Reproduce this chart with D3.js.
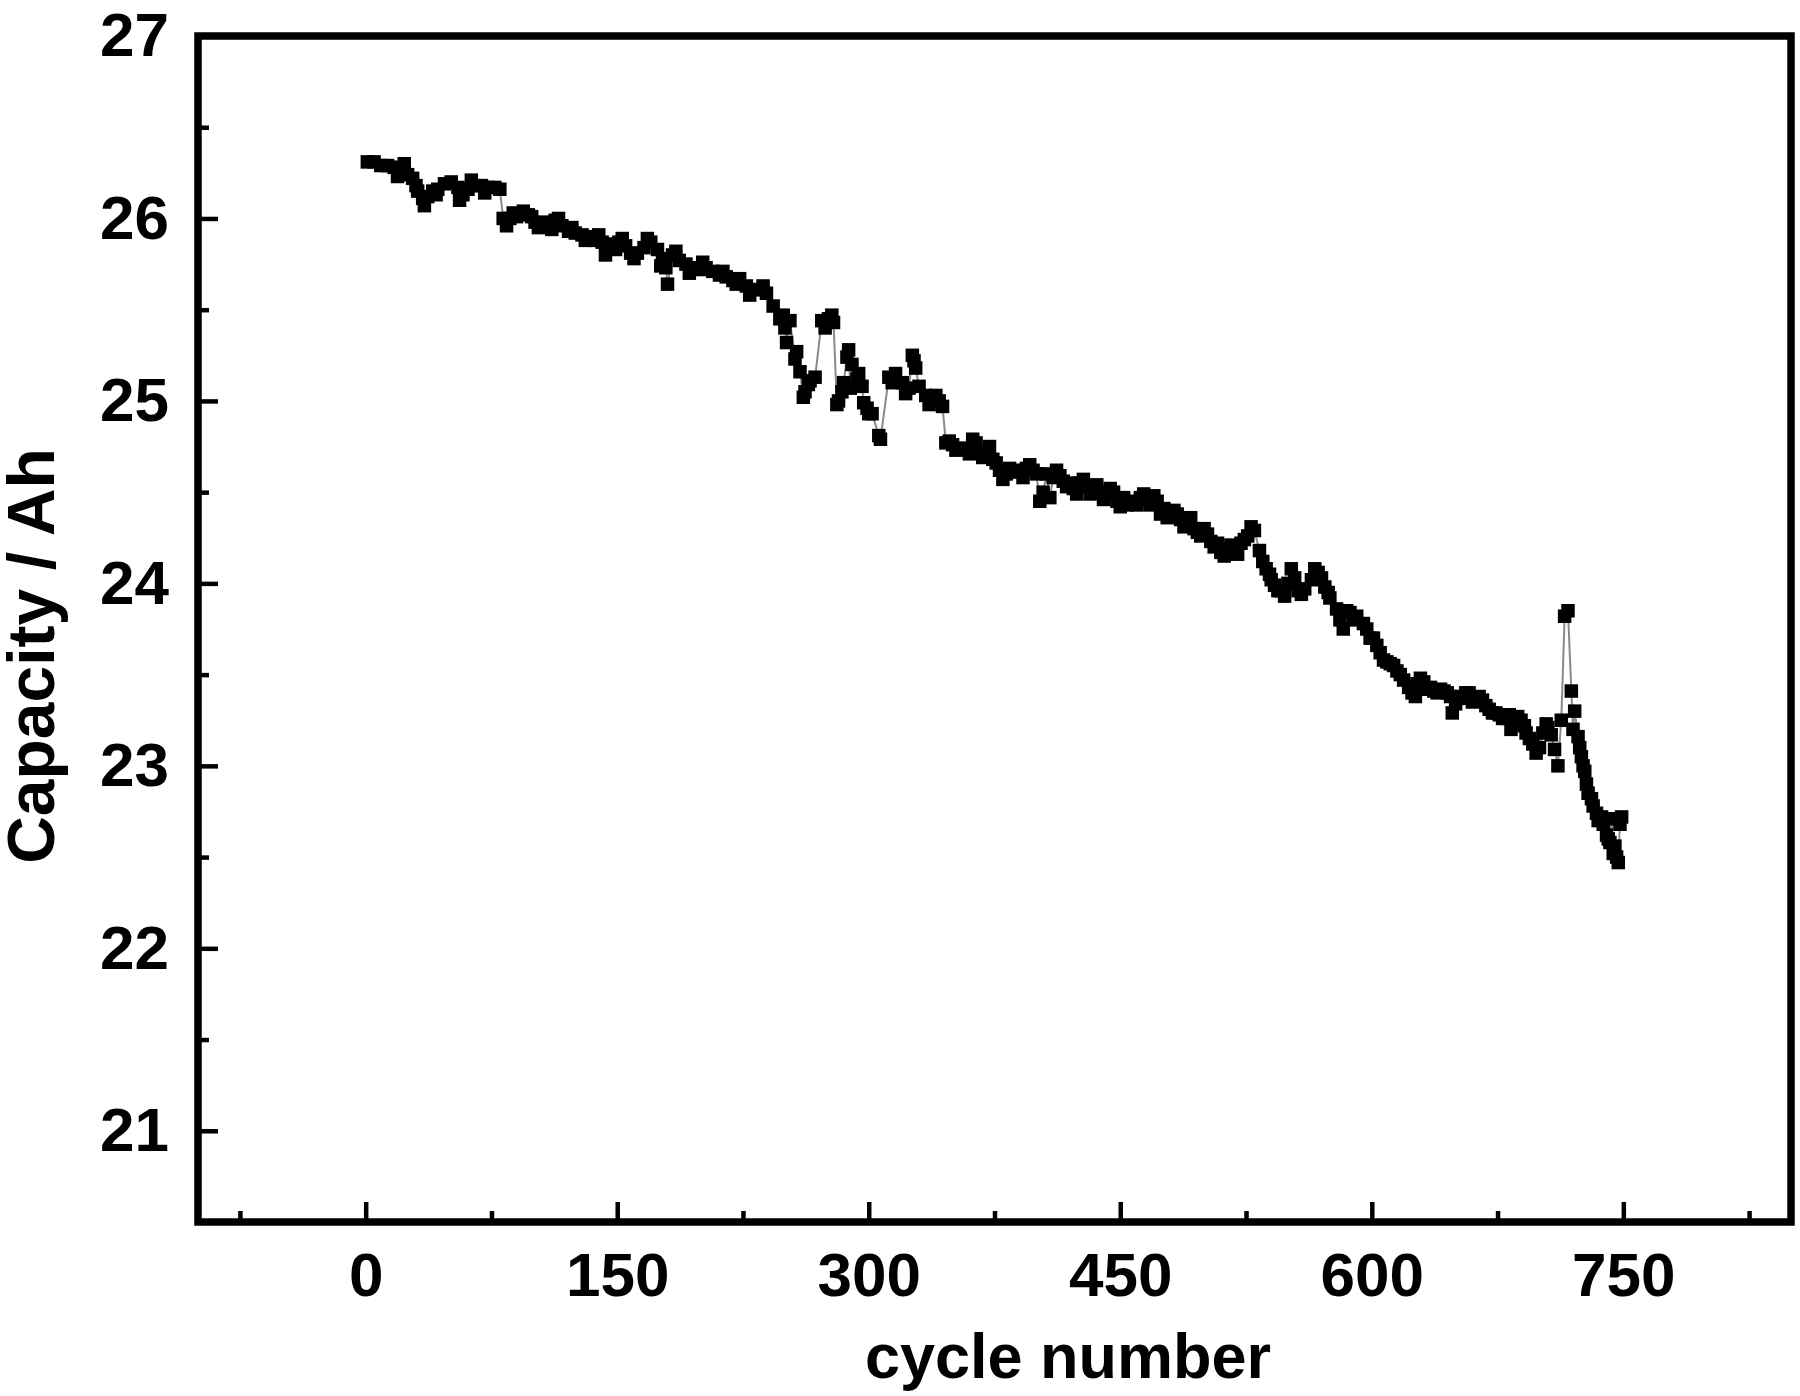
<!DOCTYPE html>
<html>
<head>
<meta charset="utf-8">
<script src="https://cdn.jsdelivr.net/npm/d3@7"></script>
<style>
  body { margin: 0; background: #fff; }
  text { font-family: "Liberation Sans", Arial, sans-serif; font-weight: bold; fill: #000; }
</style>
</head>
<body>
<svg id="chart" width="1800" height="1396" viewBox="0 0 1800 1396"></svg>
<script>
// capacity fade data (main trace)
const cycles = [
  1, 5, 9, 13, 17, 21, 25, 28, 31, 34, 37, 40, 43, 47, 51, 55, 58, 61, 65, 69, 73, 77, 80,
  82, 86, 90, 94, 97, 101, 105, 109, 113, 117, 121, 125, 129, 133, 137, 141, 143, 147, 151, 155, 158,
  162, 166, 170, 174, 177, 180, 183, 187, 191, 195, 199, 203, 207, 211, 215, 219, 223, 227, 231, 235,
  239, 243, 247, 250, 253, 256, 259, 262, 265, 268, 272, 276, 279, 282, 285, 287, 290, 293, 296, 299,
  302, 306, 312, 316, 320, 324, 327, 330, 334, 338, 342, 346, 350, 354, 358, 362, 366, 370, 374, 378,
  382, 386, 390, 394, 398, 402, 406, 410, 414, 418, 422, 426, 430, 434, 438, 442, 446, 450, 454, 458,
  462, 466, 470, 474, 478, 482, 486, 490, 494, 498, 502, 506, 510, 514, 518, 522, 526, 530, 533, 537,
  540, 544, 548, 552, 556, 560, 564, 568, 572, 575, 579, 583, 587, 591, 595, 599, 603, 607, 611, 615,
  619, 622, 626, 629, 633, 637, 641, 645, 648, 652, 656, 660, 664, 668, 672, 676, 680, 683, 687, 691,
  694, 698, 702, 705, 709, 711, 713, 715, 717, 719, 721, 723, 725, 727, 729, 732, 735, 738, 741, 743,
  745, 747, 749
]
const capacity = [
  26.31, 26.31, 26.29, 26.29, 26.28, 26.28, 26.24, 26.22, 26.15, 26.11, 26.12, 26.15, 26.16, 26.19, 26.20, 26.17, 26.13, 26.16, 26.18, 26.18, 26.17, 26.17, 26.16,
  26.00, 26.00, 26.01, 26.04, 26.02, 25.98, 25.97, 25.98, 25.99, 25.96, 25.93, 25.92, 25.91, 25.90, 25.88, 25.87, 25.80, 25.86, 25.87, 25.85, 25.81,
  25.81, 25.84, 25.87, 25.83, 25.78, 25.64, 25.80, 25.77, 25.75, 25.73, 25.72, 25.73, 25.71, 25.69, 25.68, 25.66, 25.67, 25.63, 25.61, 25.61,
  25.59, 25.52, 25.45, 25.40, 25.44, 25.23, 25.16, 25.05, 25.11, 25.13, 25.44, 25.45, 25.43, 25.00, 25.10, 25.24, 25.20, 25.12, 25.08, 24.96,
  24.93, 24.81, 25.13, 25.15, 25.10, 25.07, 25.22, 25.08, 25.03, 25.01, 25.00, 24.77, 24.76, 24.74, 24.74, 24.79, 24.72, 24.72, 24.68, 24.62,
  24.60, 24.61, 24.62, 24.63, 24.62, 24.45, 24.60, 24.58, 24.59, 24.53, 24.52, 24.55, 24.53, 24.51, 24.50, 24.49, 24.50, 24.42, 24.43, 24.45,
  24.47, 24.46, 24.48, 24.38, 24.36, 24.40, 24.35, 24.34, 24.30, 24.26, 24.27, 24.20, 24.17, 24.19, 24.18, 24.22, 24.26, 24.29, 24.18, 24.08,
  24.02, 23.96, 23.93, 24.08, 23.96, 23.97, 24.02, 24.06, 23.98, 23.92, 23.86, 23.75, 23.84, 23.82, 23.78, 23.70, 23.66, 23.58, 23.56, 23.52,
  23.47, 23.43, 23.38, 23.48, 23.42, 23.41, 23.42, 23.40, 23.29, 23.38, 23.40, 23.35, 23.38, 23.33, 23.29, 23.28, 23.26, 23.20, 23.27, 23.22,
  23.15, 23.07, 23.18, 23.21, 23.09, 23.00, 23.25, 23.82, 23.85, 23.41, 23.30, 23.16, 23.05, 22.97, 22.85, 22.78, 22.70, 22.68, 22.60, 22.71,
  22.56, 22.47, 22.72
]
// in-between cycles, read from the upper / lower edge of the band
const extraCycles = [
  19, 23, 30, 35, 42, 56, 63, 71, 84, 88, 99, 103, 111, 115, 123, 131, 139, 149, 153, 160,
  168, 176, 179, 185, 193, 201, 213, 221, 229, 237, 249, 251, 257, 261, 264, 274, 278, 281, 284, 288,
  289, 294, 297, 300, 307, 314, 322, 326, 328, 336, 340, 344, 348, 352, 360, 364, 368, 372, 376, 380,
  384, 392, 396, 400, 404, 408, 412, 416, 420, 424, 428, 432, 436, 440, 444, 448, 452, 460, 464, 468,
  472, 476, 480, 484, 488, 492, 496, 500, 504, 508, 512, 516, 520, 524, 528, 535, 539, 542, 546, 550,
  554, 558, 566, 570, 574, 581, 585, 589, 597, 601, 605, 609, 613, 617, 624, 627, 631, 635, 639, 643,
  647, 650, 654, 658, 662, 666, 670, 674, 678, 682, 685, 689, 692, 696, 700, 704, 707, 720, 724, 726,
  728, 731, 734, 737, 740, 742, 744, 746, 748
]
const extraCapacity = [
  26.23, 26.30, 26.18, 26.07, 26.13, 26.10, 26.21, 26.14, 25.96, 26.03, 26.01, 25.95, 25.94, 26.00, 25.95, 25.88, 25.91, 25.83, 25.89, 25.78,
  25.89, 25.74, 25.73, 25.82, 25.70, 25.76, 25.71, 25.64, 25.58, 25.63, 25.47, 25.32, 25.27, 25.02, 25.09, 25.40, 25.47, 24.98, 25.05, 25.28,
  25.07, 25.15, 24.99, 24.93, 24.79, 25.10, 25.04, 25.25, 25.18, 24.98, 25.03, 24.97, 24.78, 24.73, 24.71, 24.77, 24.69, 24.75, 24.66, 24.57,
  24.63, 24.58, 24.65, 24.60, 24.50, 24.47, 24.62, 24.56, 24.55, 24.49, 24.57, 24.49, 24.54, 24.46, 24.52, 24.45, 24.47, 24.43, 24.49, 24.43,
  24.45, 24.41, 24.37, 24.38, 24.31, 24.36, 24.28, 24.30, 24.23, 24.22, 24.15, 24.21, 24.16, 24.24, 24.31, 24.12, 24.05, 23.99, 23.96, 24.00,
  24.03, 23.94, 24.08, 24.03, 23.95, 23.80, 23.85, 23.80, 23.75, 23.70, 23.62, 23.57, 23.55, 23.50, 23.40, 23.45, 23.46, 23.43, 23.40, 23.41,
  23.38, 23.34, 23.37, 23.40, 23.36, 23.36, 23.31, 23.29, 23.26, 23.28, 23.23, 23.25, 23.18, 23.12, 23.10, 23.23, 23.17, 23.20, 23.10, 23.00,
  22.90, 22.82, 22.74, 22.72, 22.62, 22.58, 22.52, 22.50, 22.68
]

const xTicks = [0, 150, 300, 450, 600, 750]
const xMinorTicks = [-75, 75, 225, 375, 525, 675, 825]
const yTicks = [21, 22, 23, 24, 25, 26, 27]
const yMinorTicks = [21.5, 22.5, 23.5, 24.5, 25.5, 26.5]

const svg = d3.select("#chart")
const plotLeft = 198, plotRight = 1791, plotTop = 36, plotBottom = 1222

const x = d3.scaleLinear().domain([-100, 850]).range([plotLeft, plotRight])
const y = d3.scaleLinear().domain([20.5, 27]).range([plotBottom, plotTop])

const points = cycles.map((c, i) => ({c: c, v: capacity[i]}))
    .concat(extraCycles.map((c, i) => ({c: c, v: extraCapacity[i]})))
    .sort((a, b) => a.c - b.c)

// thin connecting line
svg.append("path")
    .datum(points)
    .attr("fill", "none")
    .attr("stroke", "#8a8a8a")
    .attr("stroke-width", 2)
    .attr("d", d3.line().x(d => x(d.c)).y(d => y(d.v)))

// square markers
const sq = 13.5
svg.append("g")
    .selectAll("rect")
    .data(points)
    .enter()
    .append("rect")
    .attr("x", d => x(d.c) - sq / 2)
    .attr("y", d => y(d.v) - sq / 2)
    .attr("width", sq)
    .attr("height", sq)
    .attr("fill", "#000")

// axes, ticks pointing inward
const styleAxis = (g, size) => {
    g.select(".domain").remove()
    g.selectAll(".tick line").attr("stroke", "#000").attr("stroke-width", 4.5)
    g.selectAll(".tick text").style("font-size", size + "px")
        .style("font-family", '"Liberation Sans", Arial, sans-serif')
        .style("font-weight", "bold")
}

svg.append("g")
    .attr("transform", `translate(0,${plotBottom})`)
    .call(d3.axisBottom(x).tickValues(xTicks).tickFormat(d3.format("d"))
        .tickSizeInner(-20).tickSizeOuter(0).tickPadding(30))
    .call(g => styleAxis(g, 62))

svg.append("g")
    .attr("transform", `translate(0,${plotBottom})`)
    .call(d3.axisBottom(x).tickValues(xMinorTicks).tickSizeInner(-11).tickSizeOuter(0).tickFormat(""))
    .call(g => styleAxis(g, 62))

svg.append("g")
    .attr("transform", `translate(${plotLeft},0)`)
    .call(d3.axisLeft(y).tickValues(yTicks).tickFormat(d3.format("d"))
        .tickSizeInner(-20).tickSizeOuter(0).tickPadding(29))
    .call(g => styleAxis(g, 62))

svg.append("g")
    .attr("transform", `translate(${plotLeft},0)`)
    .call(d3.axisLeft(y).tickValues(yMinorTicks).tickSizeInner(-11).tickSizeOuter(0).tickFormat(""))
    .call(g => styleAxis(g, 62))

// frame
svg.append("rect")
    .attr("x", plotLeft)
    .attr("y", plotTop)
    .attr("width", plotRight - plotLeft)
    .attr("height", plotBottom - plotTop)
    .attr("fill", "none")
    .attr("stroke", "#000")
    .attr("stroke-width", 7.5)

// titles
svg.append("text")
    .attr("x", 1068)
    .attr("y", 1378)
    .attr("text-anchor", "middle")
    .style("font-size", "63px")
    .text("cycle number")

svg.append("text")
    .attr("transform", "translate(54,656) rotate(-90)")
    .attr("text-anchor", "middle")
    .style("font-size", "66px")
    .text("Capacity / Ah")
</script>
</body>
</html>
